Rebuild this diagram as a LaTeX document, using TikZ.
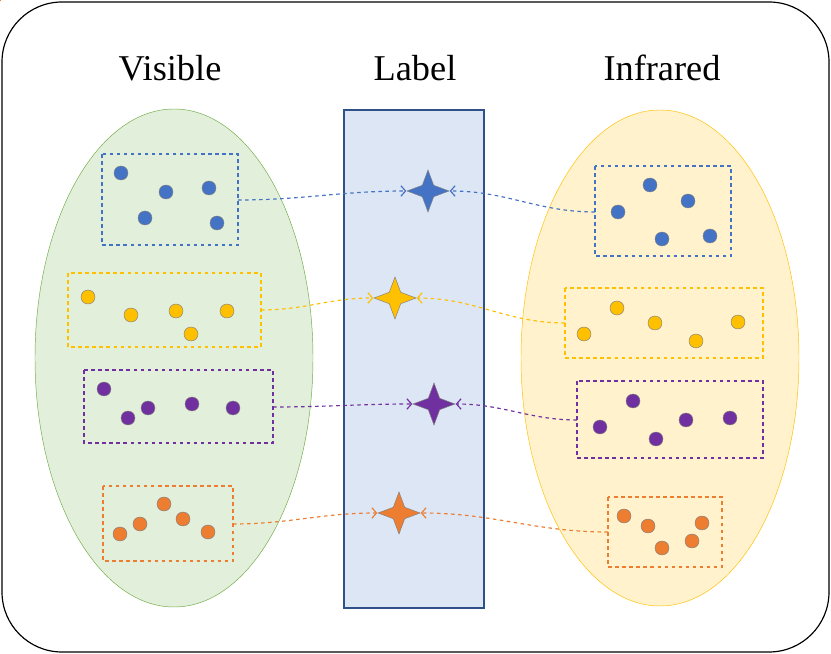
\documentclass[tikz,border=0pt]{standalone}
\usepackage{fontspec}
\setmainfont{Liberation Serif}
\usetikzlibrary{shapes.geometric,arrows.meta}
\definecolor{cblue}{HTML}{4472C4}
\definecolor{cyellow}{HTML}{FFC000}
\definecolor{cpurple}{HTML}{7030A0}
\definecolor{corange}{HTML}{ED7D31}
\definecolor{cgreen}{HTML}{70AD47}
\tikzset{
  title/.style={font=\fontsize{31}{36}\selectfont},
  dot/.style={circle, draw=gray, fill=#1, minimum size=14*0.03cm, inner sep=0pt},
  group/.style={draw=#1, dashed, line width=1pt},
  spark/.style={star, star points=4, star point ratio=2.6, draw=gray, fill=#1, minimum size=42*0.03cm, inner sep=0pt},
  link/.style={#1, dashed, line width=1pt, -{Straight Barb[length=4pt,width=9pt]}}
}
\begin{document}
\begin{tikzpicture}[x=0.03cm,y=-0.03cm]
		\useasboundingbox (0,0) rectangle (831,654);
		\draw[line width=1pt, rounded corners=60*0.03cm] (2,2) rectangle (829,652);
		
		% Modalities
		\node[title] (tvis) at (170,68) {Visible};
		\node[title] (tlab) at (415,68) {Label};
		\node[title] (tinf) at (662,68) {Infrared};
		
		\draw[draw=cgreen, fill=cgreen!20] (174,358) ellipse [x radius=139, y radius=249];
		\draw[draw=cyellow, fill=cyellow!20] (660,358) ellipse [x radius=139, y radius=248];
		\draw[draw=cblue!70!black, fill=cblue!18, line width=1pt] (344,110) rectangle (484,608);
		
		% Groups: name/colour/corner/corner
		\foreach \g/\c/\a/\b in {vb/cblue/{102,154}/{238,245}, vy/cyellow/{68,273}/{261,347},
		                         vp/cpurple/{84,370}/{273,443}, vo/corange/{103,486}/{233,561},
		                         ib/cblue/{595,166}/{731,256}, iy/cyellow/{565,288}/{763,358},
		                         ip/cpurple/{577,381}/{763,458}, io/corange/{608,497}/{722,567}} {
			\node[group=\c, fit/.style={}, inner sep=0pt] (\g) at (0,0) {};
			\draw[group=\c] (\a) rectangle (\b);
			\coordinate (\g-nw) at (\a);
			\coordinate (\g-se) at (\b);
		}
		
		% Samples inside each group
		\foreach \c/\pts in {cblue/{121/173,166/192,209/188,145/218,217/223},
		                     cyellow/{88/297,131/315,176/311,191/334,227/311},
		                     cpurple/{104/389,128/418,148/408,192/404,233/408},
		                     corange/{164/504,140/524,120/534,183/519,208/532},
		                     cblue/{650/185,688/201,618/212,662/239,710/236},
		                     cyellow/{617/308,584/334,655/323,696/341,738/322},
		                     cpurple/{633/401,600/427,656/439,686/420,730/418},
		                     corange/{624/516,648/526,702/523,662/548,692/541}} {
			\foreach \x/\y in \pts {
				\node[dot=\c] at (\x,\y) {};
			}
		}
		
		% Label stars
		\node[spark=cblue] (sb) at (428,191) {};
		\node[spark=cyellow] (sy) at (395,298) {};
		\node[spark=cpurple] (sp) at (434,404) {};
		\node[spark=corange] (so) at (399,513) {};
		
		% Links
		\coordinate (vbr) at (238,200); \coordinate (ibl) at (595,212);
		\coordinate (vyr) at (261,310); \coordinate (iyl) at (565,323);
		\coordinate (vpr) at (273,407); \coordinate (ipl) at (577,420);
		\coordinate (vor) at (233,524); \coordinate (iol) at (608,532);
		\foreach \v/\s/\i/\c in {vbr/sb/ibl/cblue, vyr/sy/iyl/cyellow, vpr/sp/ipl/cpurple, vor/so/iol/corange} {
			\draw[link=\c] (\v) to[out=0, in=180] (\s.west);
			\draw[link=\c] (\i) to[out=180, in=0] (\s.east);
		}
	\end{tikzpicture}
\end{document}
